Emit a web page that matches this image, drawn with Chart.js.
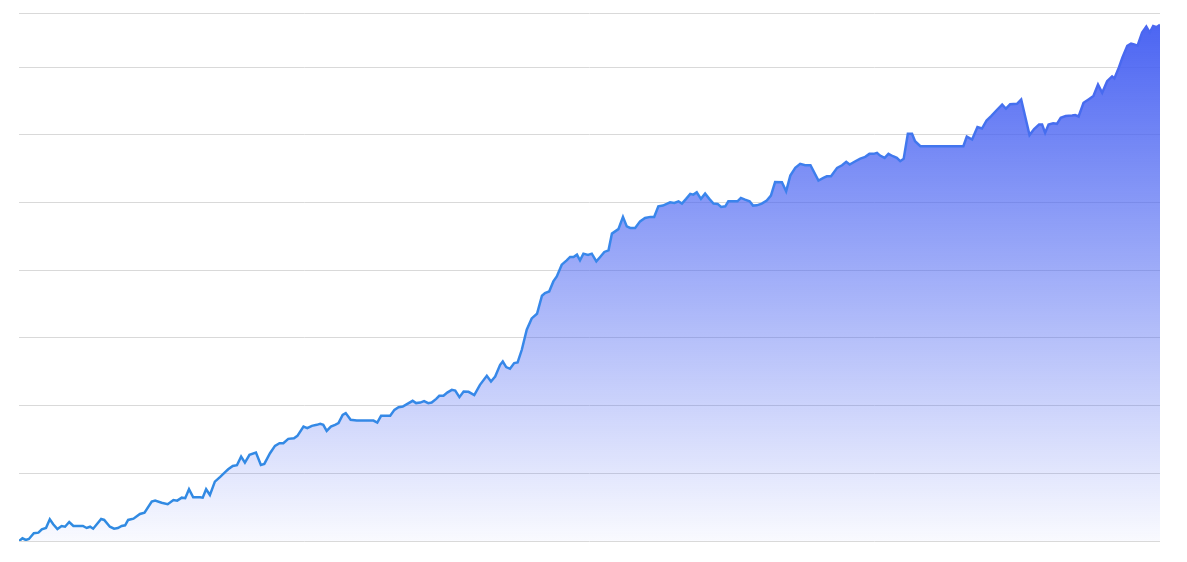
<!DOCTYPE html>
<html>
<head>
<meta charset="utf-8">
<title>Growth</title>
<script src="https://cdn.jsdelivr.net/npm/chart.js@4.4.1/dist/chart.umd.min.js"></script>
<style>
    html, body { margin: 0; padding: 0; background: #ffffff; }
    #wrap { width: 1187px; height: 562px; }
</style>
</head>
<body>
<div id="wrap"><canvas id="growthChart" width="1187" height="562"></canvas></div>
<script>
// day index and running total
const days = [
    0, 0.9, 1.8, 2.6, 3.9, 5.1, 6.0, 7.1, 8.1, 9.0,
    10.1, 11.2, 12.1, 13.2, 14.3, 15.6, 16.8, 17.8, 18.7, 19.5,
    21.6, 22.4, 23.9, 25.0, 26.0, 27.0, 27.9, 28.7, 30.1, 31.8,
    33.0, 34.9, 35.8, 37.5, 39.1, 40.6, 41.6, 42.8, 43.7, 44.7,
    45.8, 47.6, 48.3, 49.2, 50.2, 51.5, 52.9, 54.4, 55.0, 56.2,
    57.3, 58.4, 59.4, 60.6, 62.3, 63.6, 64.5, 66.0, 67.3, 68.5,
    69.5, 70.8, 72.3, 73.2, 74.8, 75.8, 77.0, 78.3, 79.2, 80.0,
    80.9, 82.0, 83.1, 84.0, 85.1, 85.9, 87.2, 88.8, 93.2, 94.2,
    95.2, 97.6, 98.7, 99.8, 100.9, 102.0, 103.5, 104.4, 105.5, 106.5,
    107.6, 108.5, 109.7, 110.5, 111.6, 112.6, 113.8, 114.7, 115.8, 116.9,
    118.2, 119.7, 121.2, 123.0, 124.1, 125.2, 126.5, 127.2, 128.1, 129.1,
    130.2, 131.1, 132.2, 133.5, 134.8, 136.2, 137.5, 138.3, 139.4, 140.5,
    141.4, 142.7, 144.0, 144.9, 145.8, 146.7, 147.5, 148.4, 149.6, 150.6,
    151.8, 152.8, 153.9, 155.0, 155.9, 157.6, 158.8, 159.8, 160.7, 162.0,
    163.3, 164.6, 166.0, 167.0, 168.1, 169.3, 170.3, 171.2, 172.3, 173.4,
    174.3, 175.4, 176.5, 177.3, 178.2, 179.3, 180.4, 181.5, 182.6, 183.7,
    184.6, 185.7, 186.5, 188.9, 189.8, 190.9, 192.1, 193.0, 194.0, 195.3,
    196.6, 197.7, 198.8, 200.6, 201.7, 202.8, 204.1, 205.4, 206.7, 208.1,
    210.2, 211.5, 212.4, 213.5, 215.1, 216.4, 217.5, 218.4, 219.9, 221.2,
    222.5, 223.6, 224.7, 225.6, 226.4, 227.6, 228.6, 229.8, 230.8, 231.7,
    232.6, 233.7, 234.8, 235.6, 237.0, 248.3, 249.2, 250.6, 252.0, 253.2,
    254.4, 255.6, 257.1, 258.5, 259.5, 260.6, 262.4, 263.5, 265.7, 266.9,
    268.2, 269.0, 269.8, 270.7, 271.9, 272.9, 273.9, 275.2, 276.9, 277.7,
    278.6, 279.9, 281.3, 282.5, 283.7, 284.8, 286.1, 287.4, 288.0, 289.2,
    290.1, 291.4, 292.4, 293.2, 294.1, 295.3, 296.4, 297.3, 298.2, 299.1,
    300.0
];

const totals = [
    0, 4.0, 1.5, 3.0, 11.4, 12.3, 17.3, 19.2, 32.1, 24.7,
    17.7, 22.2, 21.1, 28.1, 22.2, 22.2, 22.2, 19.2, 21.1, 18.2,
    32.5, 31.1, 21.1, 18.2, 19.2, 22.2, 23.2, 31.1, 33.0, 39.9,
    41.9, 58.1, 59.6, 56.6, 54.3, 60.6, 59.6, 64.0, 63.2, 76.5,
    64.6, 64.6, 64.0, 76.5, 68.0, 87.7, 94.7, 102.8, 106.0, 110.9,
    112.0, 124.7, 115.8, 127.2, 130.6, 112.4, 113.9, 129.7, 140.5, 144.5,
    144.5, 150.9, 151.9, 155.3, 169.0, 166.7, 170.1, 171.6, 173.0, 171.6,
    162.7, 169.0, 171.6, 174.1, 186.4, 188.9, 179.0, 177.9, 177.9, 175.0,
    184.9, 184.9, 193.7, 197.7, 198.6, 202.2, 207.1, 203.7, 204.5, 206.6,
    203.7, 204.5, 210.0, 214.5, 214.5, 219.3, 223.3, 222.3, 212.5, 220.8,
    220.4, 215.5, 230.7, 244.0, 235.6, 243.0, 260.3, 265.2, 256.9, 254.4,
    262.8, 263.7, 282.5, 312.1, 328.8, 335.7, 362.4, 366.3, 368.7, 383.5,
    390.9, 408.2, 414.6, 419.6, 419.6, 423.0, 414.6, 424.5, 422.6, 424.5,
    413.1, 419.6, 427.0, 429.4, 454.1, 460.7, 478.8, 464.8, 462.5, 462.5,
    472.2, 477.3, 478.8, 478.8, 494.4, 495.5, 498.0, 500.4, 499.5, 501.8,
    498.4, 505.4, 512.8, 511.7, 515.1, 505.4, 513.2, 505.4, 498.4, 498.0,
    493.5, 494.4, 501.8, 501.8, 506.9, 504.3, 501.8, 495.5, 495.9, 498.4,
    502.9, 510.3, 530.2, 529.9, 516.6, 539.8, 551.2, 557.1, 555.1, 555.1,
    532.4, 536.4, 538.8, 538.8, 551.2, 555.1, 560.1, 556.1, 561.0, 565.0,
    567.5, 571.9, 571.9, 573.4, 569.4, 566.0, 571.9, 568.4, 566.0, 561.0,
    564.5, 601.6, 601.6, 590.6, 583.2, 583.2, 597.5, 593.1, 611.6, 609.3,
    621.2, 627.8, 636.7, 644.8, 638.6, 645.3, 645.9, 652.2, 599.7, 608.6,
    615.3, 615.3, 603.0, 615.3, 617.2, 616.3, 625.2, 627.8, 628.6, 629.3,
    627.1, 647.4, 652.7, 657.4, 674.4, 662.2, 679.3, 686.3, 683.3, 699.6,
    713.9, 731.4, 734.8, 733.6, 731.7, 751.0, 760.0, 751.0, 760.8, 758.9,
    762.6
];

const yMax = 780;
const yStep = 100;

const points = days.map((d, i) => ({ x: d, y: totals[i] }));

const fillGradient = (ctx) => {
    const { chart } = ctx;
    const area = chart.chartArea;
    if (!area) return 'rgba(74,100,242,0.5)';
    const g = chart.ctx.createLinearGradient(0, area.top, 0, area.bottom);
    g.addColorStop(0, 'rgba(72,98,242,1)');
    g.addColorStop(1, 'rgba(72,98,242,0.03)');
    return g;
};

const lineGradient = (ctx) => {
    const { chart } = ctx;
    const area = chart.chartArea;
    if (!area) return '#3a8ae6';
    const g = chart.ctx.createLinearGradient(area.left, 0, area.right, 0);
    g.addColorStop(0, '#2f8be0');
    g.addColorStop(0.6, '#3a86ec');
    g.addColorStop(1, '#4a66f0');
    return g;
};

new Chart(document.getElementById('growthChart'), {
    type: 'line',
    data: {
        datasets: [
            {
                data: points,
                borderColor: lineGradient,
                backgroundColor: fillGradient,
                borderWidth: 2.5,
                fill: 'origin',
                pointRadius: 0,
                tension: 0
            }
        ]
    },
    options: {
        responsive: false,
        animation: false,
        layout: { padding: { left: 19, right: 27, top: 13, bottom: 21 } },
        plugins: {
            legend: { display: false },
            tooltip: { enabled: false }
        },
        scales: {
            x: {
                type: 'linear',
                min: 0,
                max: 300,
                display: false
            },
            y: {
                min: 0,
                max: yMax,
                ticks: { display: false, stepSize: yStep },
                border: { display: false },
                grid: { color: '#d9d9d9', lineWidth: 1, drawTicks: false },
                afterFit: (scale) => { scale.width = 0; }
            }
        }
    }
});
</script>
</body>
</html>
